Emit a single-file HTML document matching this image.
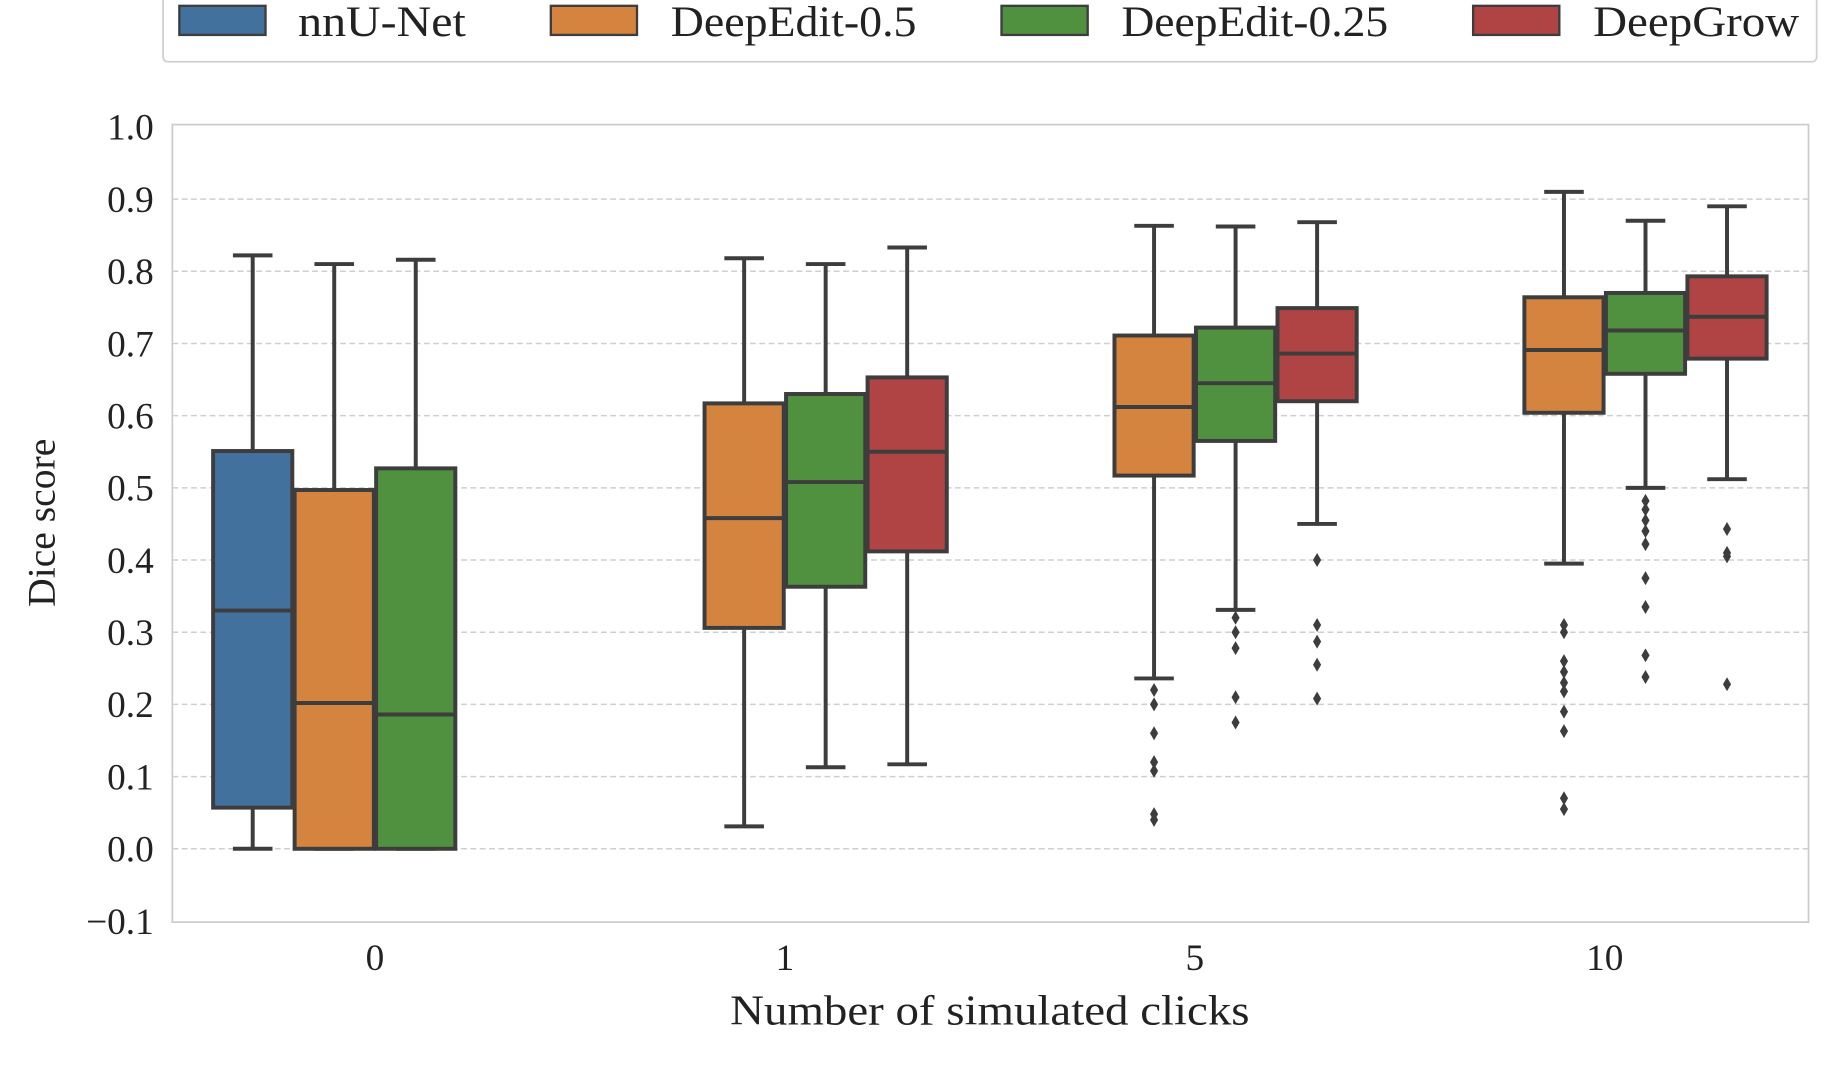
<!DOCTYPE html>
<html><head><meta charset="utf-8"><style>html,body{margin:0;padding:0;background:#fff}svg{display:block}</style></head>
<body>
<svg id="s" width="1826" height="1070" viewBox="0 0 1568 919" preserveAspectRatio="none" xmlns="http://www.w3.org/2000/svg" font-family="Liberation Serif, serif">
<rect width="1568" height="919" fill="#fff"/>
<g id="grid"></g>
<rect x="148" y="107" width="1405" height="685" fill="none" stroke="#cccccc" stroke-width="1.5"/>
<g id="boxes"></g>
<g font-size="32" fill="#222" text-anchor="end" id="yt"></g>
<g font-size="32" fill="#222" text-anchor="middle">
<text x="322" y="833">0</text><text x="674" y="833">1</text><text x="1026" y="833">5</text><text x="1378" y="833">10</text>
</g>
<text x="627" y="880" font-size="36" fill="#222" textLength="446" lengthAdjust="spacingAndGlyphs">Number of simulated clicks</text>
<text transform="translate(47,449) rotate(-90)" font-size="34" text-anchor="middle" fill="#222">Dice score</text>
<rect x="140" y="-8" width="1420" height="61" rx="4" fill="#fff" stroke="#d0d0d0" stroke-width="1.5"/>
<g font-size="37" fill="#222" stroke="#3d3d3d" stroke-width="2">
<rect x="154" y="5" width="74" height="25" fill="#41719c"/><text x="256" y="31" stroke="none" textLength="144" lengthAdjust="spacingAndGlyphs">nnU-Net</text>
<rect x="473" y="5" width="74" height="25" fill="#d5843f"/><text x="576" y="31" stroke="none" textLength="211" lengthAdjust="spacingAndGlyphs">DeepEdit-0.5</text>
<rect x="860" y="5" width="74" height="25" fill="#50913f"/><text x="963" y="31" stroke="none" textLength="229" lengthAdjust="spacingAndGlyphs">DeepEdit-0.25</text>
<rect x="1265" y="5" width="74" height="25" fill="#b04444"/><text x="1368" y="31" stroke="none" textLength="177" lengthAdjust="spacingAndGlyphs">DeepGrow</text>
</g>
</svg>
<script>
const Y=v=>729-620*v;
const ns="http://www.w3.org/2000/svg";
function el(p,t,a){const e=document.createElementNS(ns,t);for(const k in a)e.setAttribute(k,a[k]);p.appendChild(e);return e;}
const g=document.getElementById('grid'),yt=document.getElementById('yt'),b=document.getElementById('boxes');
for(let i=-1;i<=10;i++){const y=Y(i/10);
 if(i>=0&&i<10)el(g,'line',{x1:148,x2:1553,y1:y,y2:y,stroke:'#cfcfcf','stroke-width':1.3,'stroke-dasharray':'5,3'});
 const t=el(yt,'text',{x:132,y:y+11});t.textContent=(i<0?'\u22120.1':(i/10).toFixed(1));}
const C=['#41719c','#d5843f','#50913f','#b04444'],off=[-105,-35,35,105],cx=[322,674,1026,1378];
const D=[
[0,0,0,0.822,0.057,0.551,0.33,[]],[0,1,0,0.81,0,0.497,0.202,[]],[0,2,0,0.816,0,0.527,0.186,[]],
[1,1,0.031,0.818,0.306,0.617,0.458,[]],[1,2,0.113,0.81,0.363,0.63,0.508,[]],[1,3,0.117,0.833,0.412,0.653,0.55,[]],
[2,1,0.236,0.863,0.517,0.711,0.612,[0.22,0.2,0.16,0.12,0.108,0.048,0.04]],
[2,2,0.331,0.862,0.565,0.722,0.645,[0.32,0.30,0.278,0.21,0.175]],
[2,3,0.45,0.868,0.62,0.749,0.686,[0.40,0.31,0.287,0.255,0.208]],
[3,1,0.395,0.91,0.604,0.764,0.691,[0.31,0.30,0.26,0.245,0.23,0.218,0.19,0.163,0.07,0.055]],
[3,2,0.5,0.87,0.658,0.77,0.718,[0.482,0.47,0.455,0.44,0.422,0.375,0.335,0.268,0.238]],
[3,3,0.512,0.89,0.679,0.793,0.737,[0.443,0.41,0.405,0.228]]];
for(const d of D){const x=cx[d[0]]+off[d[1]],w=68,L='#3d3d3d',sw=3.4;
 el(b,'line',{x1:x,x2:x,y1:Y(d[2]),y2:Y(d[4]),stroke:L,'stroke-width':sw});
 el(b,'line',{x1:x,x2:x,y1:Y(d[3]),y2:Y(d[5]),stroke:L,'stroke-width':sw});
 el(b,'line',{x1:x-17,x2:x+17,y1:Y(d[2]),y2:Y(d[2]),stroke:L,'stroke-width':sw});
 el(b,'line',{x1:x-17,x2:x+17,y1:Y(d[3]),y2:Y(d[3]),stroke:L,'stroke-width':sw});
 el(b,'rect',{x:x-w/2,y:Y(d[5]),width:w,height:Y(d[4])-Y(d[5]),fill:C[d[1]],stroke:L,'stroke-width':sw});
 el(b,'line',{x1:x-w/2,x2:x+w/2,y1:Y(d[6]),y2:Y(d[6]),stroke:L,'stroke-width':sw});
 for(const o of d[7]){const y=Y(o);el(b,'path',{d:`M${x} ${y-6}L${x+3.5} ${y}L${x} ${y+6}L${x-3.5} ${y}Z`,fill:L});}
}
</script>
</body></html>
